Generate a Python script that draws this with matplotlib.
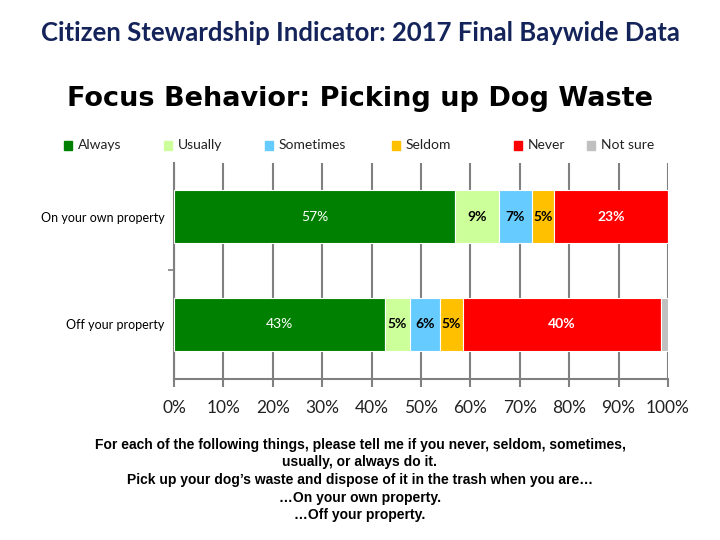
import matplotlib
matplotlib.use("Agg")
import matplotlib.pyplot as plt
import numpy as np

# ---------------------------------------------------------------------------
# Data (percent of respondents)
# ---------------------------------------------------------------------------
categories = ["Off your property", "On your own property"]
responses = ["Always", "Usually", "Sometimes", "Seldom", "Never", "Not sure"]
always = [42.7, 56.9]
usually = [5.0, 8.9]
sometimes = [6.2, 6.6]
seldom = [4.6, 4.6]
never = [40.1, 22.9]
not_sure = [1.4, 0.1]
xticks = [0, 10, 20, 30, 40, 50, 60, 70, 80, 90, 100]

COLORS = ["#008000", "#CCFF99", "#66CCFF", "#FFC000", "#FF0000", "#C0C0C0"]
# label style per response: (colour, weight) ; None = no label
LABEL_STYLE = [("white", "normal"), ("black", "bold"), ("black", "bold"),
               ("black", "bold"), ("white", "bold"), None]

CALIBRI = ["Lato", "DejaVu Sans"]
ARIAL = ["Liberation Sans", "DejaVu Sans"]

fig = plt.figure(figsize=(7.2, 5.4), dpi=100)

fig.text(0.5, 1 - 33 / 540, "Citizen Stewardship Indicator: 2017 Final Baywide Data",
         ha="center", va="center", fontsize=18.5, fontweight="bold",
         color="#14235A", family=CALIBRI)
fig.text(0.5, 1 - 99 / 540, "Focus Behavior: Picking up Dog Waste",
         ha="center", va="center", fontsize=19.5, fontweight="bold",
         color="black", family=["DejaVu Sans"])

# legend row
legend_x = [64, 164, 265, 392, 514, 587]
for x, name, col in zip(legend_x, responses, COLORS):
    fig.patches.append(plt.Rectangle((x / 720, 1 - 150 / 540), 8 / 720, 9 / 540,
                                     transform=fig.transFigure, color=col))
    fig.text((x + 14) / 720, 1 - 145 / 540, name, ha="left", va="center",
             fontsize=10, family=CALIBRI, color="#222222")

ax = fig.add_axes([174 / 720, 1 - 379 / 540, 494 / 720, 216 / 540])

series = [always, usually, sometimes, seldom, never, not_sure]
y = np.arange(len(categories))
left = np.zeros(len(categories))
for vals, col, style in zip(series, COLORS, LABEL_STYLE):
    vals = np.array(vals)
    ax.barh(y, vals, left=left, height=0.49, color=col, edgecolor="white",
            linewidth=0.8, zorder=3)
    if style is not None:
        for yi, (l, v) in enumerate(zip(left, vals)):
            ax.text(l + v / 2, yi, f"{round(v):.0f}%", ha="center", va="center",
                    color=style[0], fontweight=style[1], fontsize=10,
                    family=CALIBRI, zorder=4)
    left += vals

ax.set_xlim(0, 100)
ax.set_ylim(-0.51, 1.5)
ax.set_xticks(xticks)
ax.set_xticklabels([f"{t}%" for t in xticks], family=CALIBRI, fontsize=12.5,
                   color="#222222")
ax.set_yticks(y)
ax.set_yticklabels(categories, family=CALIBRI, fontsize=9)
ax.set_yticks([0.5], minor=True)
ax.tick_params(axis="y", which="major", length=0, pad=7)
ax.tick_params(axis="y", which="minor", length=4, color="#808080", width=1.2)
ax.tick_params(axis="x", length=6, color="#808080", width=1.5, pad=9)
ax.grid(axis="x", color="#808080", linewidth=1.5, zorder=0)
for s in ["top", "right"]:
    ax.spines[s].set_visible(False)
for s in ["left", "bottom"]:
    ax.spines[s].set_color("#808080")
    ax.spines[s].set_linewidth(1.5)

note = ("For each of the following things, please tell me if you never, seldom, sometimes,\n"
        "usually, or always do it.\n"
        "Pick up your dog\u2019s waste and dispose of it in the trash when you are\u2026\n"
        "\u2026On your own property.\n"
        "\u2026Off your property.")
fig.text(0.5, 1 - 480 / 540, note, ha="center", va="center", fontsize=10,
         fontweight="bold", family=ARIAL, linespacing=1.32)

fig.savefig("out.png", dpi=100)
